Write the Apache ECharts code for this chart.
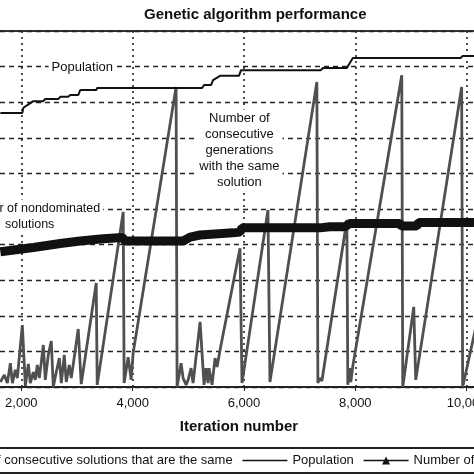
<!DOCTYPE html>
<html>
<head>
<meta charset="utf-8">
<script src="https://cdn.jsdelivr.net/npm/echarts@6/dist/echarts.min.js"></script>
<style>
  html, body { margin: 0; padding: 0; background: #fff; }
  #main { width: 474px; height: 474px; }
</style>
</head>
<body>
<div id="main"></div>
<script>
// consecutive generations with the same solution (grey sawtooth)
var sameIter = [1623, 1695, 1749, 1803, 1839, 1892, 1928, 2018, 2072, 2126, 2161, 2215, 2251, 2287, 2323, 2359, 2395, 2430, 2484, 2538,
    2574, 2628, 2682, 2718, 2771, 2807, 2861, 2897, 2951, 3022, 3076, 3345, 3363, 3830, 3847, 3919, 3973, 4009, 4780, 4798,
    4870, 4906, 4960, 4996, 5049, 5085, 5211, 5282, 5318, 5354, 5372, 5426, 5480, 5516, 5570, 5928, 5964, 6430, 6466, 7309,
    7327, 7363, 7399, 7848, 7865, 7901, 7919, 7955, 8834, 8852, 9049, 9085, 9910, 9928, 10412];
var sameVal = [1.4, 3.4, 1.1, 6.7, 1.1, 4.8, 2.5, 17.4, 0.3, 6.5, 1.1, 4.2, 2.0, 6.2, 2.5, 7.0, 11.8, 2.0, 9.0, 12.9,
    0, 4.2, 8.1, 1.1, 9.0, 1.4, 6.2, 2.5, 8.4, 16.3, 0.8, 29.2, 0.6, 49.2, 1.1, 8.4, 2.0, 9.6, 84.3, 0,
    6.7, 2.5, 0.6, 2.0, 5.3, 1.1, 18.3, 0.6, 5.3, 1.1, 5.3, 0.6, 8.1, 5.6, 10.4, 39.0, 1.1, 49.7, 1.4, 85.7,
    1.1, 2.5, 1.7, 46.9, 0.6, 5.3, 1.4, 5.9, 87.6, 0, 22.5, 2.0, 84.3, 0, 34.3];

// population
var popIter = [1623, 2018, 2036, 2108, 2215, 2395, 2430, 2664, 2700, 2843, 2879, 3022, 3058, 3345, 3363, 5247, 5282, 5408, 5444, 5570,
    5910, 5946, 7381, 7417, 7848, 7901, 7955, 9892, 9928, 10592];
var popVal = [77.0, 77.0, 78.4, 79.2, 80.3, 80.3, 80.9, 80.9, 81.5, 81.5, 82.0, 82.0, 83.4, 83.4, 84.0, 84.0, 84.8, 84.8, 86.2, 87.4,
    87.4, 89.0, 89.0, 89.6, 89.6, 91.0, 92.4, 92.4, 93.0, 93.0];

// number of nondominated solutions
var ndIter = [1623, 2215, 2700, 3058, 3417, 3812, 3865, 4906, 5032, 5211, 5803, 5928, 5964, 7363, 7543, 7812, 7901, 8798, 8834, 9103, 9139, 10592];
var ndVal = [38.0, 39.2, 40.3, 41.0, 41.6, 42.0, 41.0, 41.0, 42.1, 42.7, 43.3, 43.5, 44.7, 44.7, 45.0, 45.0, 45.9, 45.9, 45.2, 45.2, 46.2, 46.2];

var seriesNames = ['Number of consecutive solutions that are the same', 'Population', 'Number of nondominated solutions'];

function zip(a, b) {
    var out = [];
    for (var i = 0; i < a.length; i++) out.push([a[i], b[i]]);
    return out;
}

var font = 'Liberation Sans, Arial, sans-serif';
var chart = echarts.init(document.getElementById('main'));

var option = {
    animation: false,
    backgroundColor: '#fff',
    title: {
        text: 'Genetic algorithm performance',
        left: 139, top: 2,
        textStyle: { fontFamily: font, fontSize: 15, fontWeight: 'bold', color: '#111' }
    },
    legend: {
        left: -121, top: 448, width: 900,
        padding: [6, 10],
        borderColor: '#222', borderWidth: 2,
        itemWidth: 45, itemHeight: 10, itemGap: 9,
        textStyle: { fontFamily: font, fontSize: 13, color: '#111' },
        data: [
            { name: seriesNames[0], itemStyle: { opacity: 0 } },
            { name: seriesNames[1], itemStyle: { opacity: 0 }, lineStyle: { width: 1.5 } },
            { name: seriesNames[2], lineStyle: { width: 1.5 } }
        ]
    },
    grid: {
        left: -90, right: -104, top: 31, bottom: 87,
        outerBoundsMode: 'none', containLabel: false,
        show: true, borderColor: '#333', borderWidth: 2
    },
    xAxis: {
        type: 'value', min: 0, max: 12000, interval: 2000,
        name: 'Iteration number', nameLocation: 'middle', nameGap: 32,
        nameTextStyle: { fontFamily: font, fontSize: 15, fontWeight: 'bold', color: '#111', padding: [0, 10, 0, 0] },
        axisLine: { lineStyle: { color: '#222', width: 2 } },
        axisTick: { show: true, length: 4, lineStyle: { color: '#222' } },
        axisLabel: {
            fontFamily: font, fontSize: 13, color: '#111', margin: 10,
            formatter: function (v) { return v.toLocaleString('en-US'); }
        },
        splitLine: { show: true, lineStyle: { color: '#222', width: 1.6, type: [2, 4] } }
    },
    yAxis: {
        type: 'value', min: 0, max: 100, interval: 10,
        axisLine: { show: false }, axisTick: { show: false }, axisLabel: { show: false },
        splitLine: { show: true, lineStyle: { color: '#222', width: 1.4, type: [5, 4] } }
    },
    series: [
        {
            name: seriesNames[0], type: 'line', data: zip(sameIter, sameVal),
            symbol: 'none', color: '#505050',
            lineStyle: { color: '#505050', width: 2.8 }, z: 2
        },
        {
            name: seriesNames[2], type: 'line', data: zip(ndIter, ndVal),
            symbol: 'triangle', showSymbol: false, color: '#111',
            lineStyle: { color: '#111', width: 9 }, z: 3
        },
        {
            name: seriesNames[1], type: 'line', data: zip(popIter, popVal),
            symbol: 'none', color: '#111',
            lineStyle: { color: '#111', width: 2 }, z: 4
        }
    ]
};
chart.setOption(option);

// text labels inside the plot, placed at data coordinates
var notes = [
    { text: 'Population', at: [3096, 89.9], size: 13 },
    { text: 'Number of\nconsecutive\ngenerations\nwith the same\nsolution', at: [5917, 66.4], size: 13 },
    { text: 'Number of nondominated\nsolutions', at: [2150, 47.9], size: 12.5 }
];
var graphics = notes.map(function (n) {
    var p = chart.convertToPixel({ gridIndex: 0 }, n.at);
    return {
        type: 'text', x: p[0], y: p[1], z: 100,
        style: {
            text: n.text, align: 'center', verticalAlign: 'middle',
            font: n.size + 'px ' + font, fill: '#111', lineHeight: 16,
            backgroundColor: '#fff', padding: [1, 3]
        }
    };
});
chart.setOption({ graphic: graphics });
</script>
</body>
</html>
